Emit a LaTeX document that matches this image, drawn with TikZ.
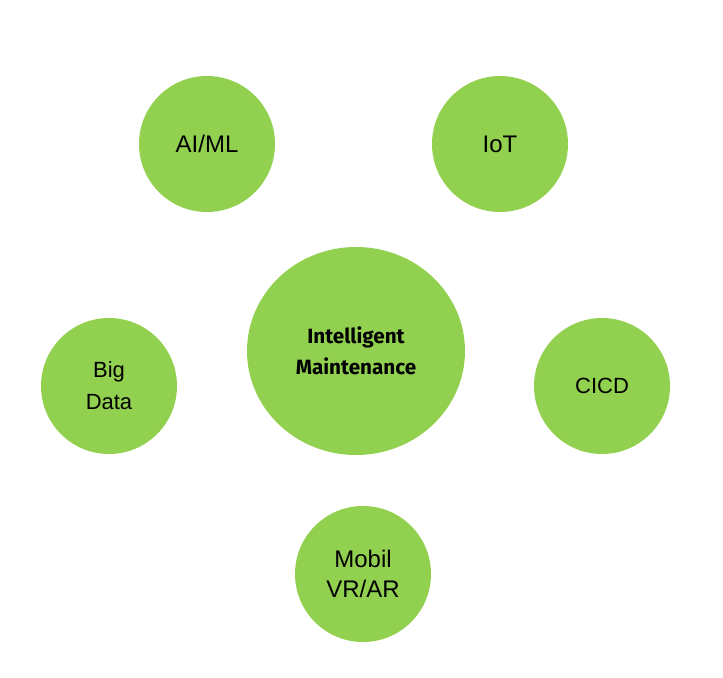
\documentclass[tikz,border=0pt]{standalone}
\usepackage{fontspec}
\setmainfont{Liberation Sans}
\newfontfamily\hubfont{Fira Sans}
\usetikzlibrary{shapes.geometric}
\definecolor{MT-green}{HTML}{92D050}

\begin{document}
\begin{tikzpicture}[x=0.75pt,y=-0.75pt,
  topic/.style={circle,fill=MT-green,minimum size=102pt,inner sep=0pt,align=center,font=\fontsize{18}{20}\selectfont},
  hub/.style={ellipse,fill=MT-green,minimum width=163.5pt,minimum height=156pt,inner sep=0pt,align=center,font=\hubfont\bfseries\fontsize{15.5}{23}\selectfont}]
  \useasboundingbox (0,0) rectangle (723,677);
  \node[hub] (Hub) at (356,351) {Intelligent\\Maintenance};
  \node[topic] (AIML) at (207,144) {AI/ML};
  \node[topic] (IoT) at (500,144) {IoT};
  \node[topic,font=\fontsize{16.5}{24}\selectfont] (BigData) at (109,386) {Big\\Data};
  \node[topic,font=\fontsize{16.5}{20}\selectfont] (CICD) at (602,386) {CICD};
  \node[topic,font=\fontsize{18}{23}\selectfont] (Mobil) at (363,574) {Mobil\\VR/AR};
\end{tikzpicture}
\end{document}
